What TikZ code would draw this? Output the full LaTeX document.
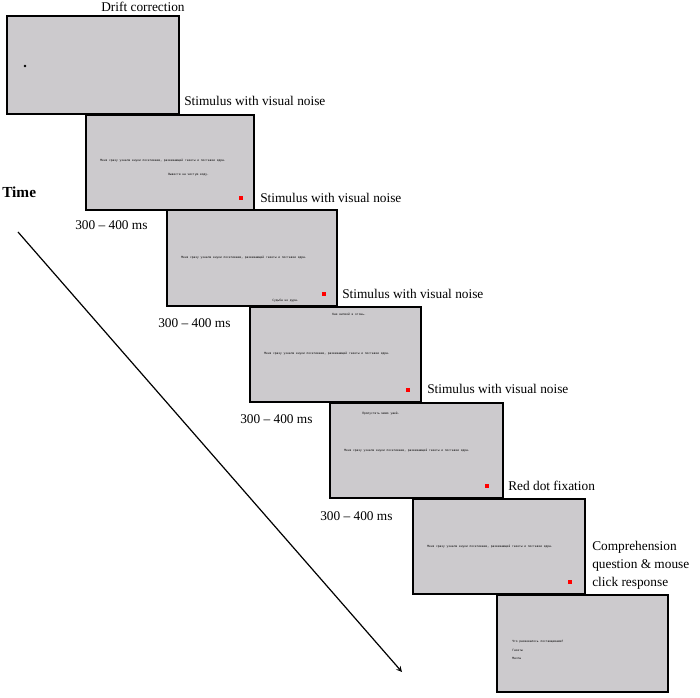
\documentclass[tikz,border=0pt]{standalone}
\usepackage{fontspec}
\setmainfont{Liberation Serif}
\newfontfamily\scr{DejaVu Sans Mono}
\begin{document}
\begin{tikzpicture}[x=0.75pt,y=-0.75pt,
 screen/.style={draw=black,line width=2.2pt,fill=scrgray},
 lab/.style={font=\fontsize{10}{12}\selectfont,inner sep=0pt},
 tt/.style={font=\scr\fontsize{2.2}{2.6}\selectfont,inner sep=0pt,anchor=west},
 rd/.style={fill=red,draw=none,minimum size=2.5pt,inner sep=0pt},
 every node/.append style={}]
\definecolor{scrgray}{HTML}{CCCACD}
\useasboundingbox[fill=white] (0,0) rectangle (700,698);
\def\L{Меня сразу узнали внуки посетившие, развевающей газеты и поставки ядра.}
\draw[screen] (7,16) rectangle (179,114);
\node[fill=black,circle,inner sep=0pt,minimum size=2pt] (d1) at (25,66) {};
\node[lab] (t1) at (143,7) {Drift correction};
\draw[screen] (86,115) rectangle (254,210);
\node[tt] (a2) at (100,161) {\L};
\node[tt] (b2) at (168,175) {Вывести на чистую воду.};
\node[rd] (r2) at (241,198) {};
\node[lab,anchor=west] (s1) at (184,101) {Stimulus with visual noise};
\draw[screen] (167,210) rectangle (337,306);
\node[tt] (a3) at (181,258) {\L};
\node[tt] (b3) at (272,301) {Судьба не дура.};
\node[rd] (r3) at (324,294) {};
\node[lab,anchor=west] (s2) at (260,198) {Stimulus with visual noise};
\draw[screen] (250,307) rectangle (421,402);
\node[tt] (c4) at (332,314) {Как вилкой в огонь.};
\node[tt] (a4) at (264,354) {\L};
\node[rd] (r4) at (408,390) {};
\node[lab,anchor=west] (s3) at (342,294) {Stimulus with visual noise};
\draw[screen] (330,403) rectangle (503,498);
\node[tt] (c5) at (362,414) {Пропустить мимо ушей.};
\node[tt] (a5) at (344,451) {\L};
\node[rd] (r5) at (487,486) {};
\node[lab,anchor=west] (s4) at (427,389) {Stimulus with visual noise};
\draw[screen] (413,499) rectangle (585,594);
\node[tt] (a6) at (427,547) {\L};
\node[rd] (r6) at (570,582) {};
\node[lab,anchor=west] (s5) at (508,486) {Red dot fixation};
\draw[screen] (497,595) rectangle (668,692);
\node[tt] (a7) at (512,642) {Что развевалось поставщиками?};
\node[tt] (b7) at (512,650) {Газеты};
\node[tt] (c7) at (512,658) {Мачты};
\node[lab,anchor=north west,align=left,font=\fontsize{10}{13.5}\selectfont] (s6) at (592,541) {Comprehension\\question \& mouse\\click response};
\node[lab,anchor=west] (m1) at (75,225) {300 -- 400 ms};
\node[lab,anchor=west] (m2) at (158,323) {300 -- 400 ms};
\node[lab,anchor=west] (m3) at (240,419) {300 -- 400 ms};
\node[lab,anchor=west] (m4) at (320,516) {300 -- 400 ms};
\node[lab,anchor=west,font=\bfseries\fontsize{11.5}{13}\selectfont] (time) at (2,192) {Time};
\coordinate (p0) at (18,232);
\coordinate (p1) at (402,672);
\draw[-stealth,line width=0.9pt] (p0) -- (p1);
\end{tikzpicture}
\end{document}
